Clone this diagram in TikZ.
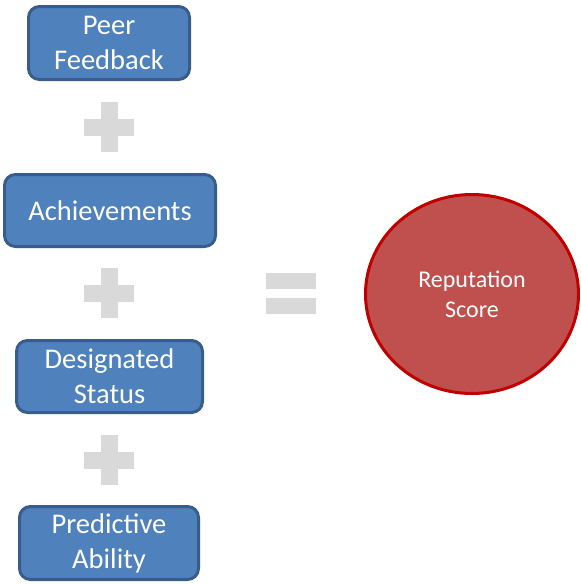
\documentclass[tikz,border=0pt]{standalone}
\usepackage{fontspec}
\setmainfont{Carlito}
\usepackage{tikz}
\usetikzlibrary{shapes.geometric}
\definecolor{boxfill}{HTML}{4F81BD}
\definecolor{boxline}{HTML}{385D8A}
\definecolor{scorefill}{HTML}{C0504D}
\definecolor{scoreline}{HTML}{C00000}
\definecolor{signgray}{HTML}{D9D9D9}
\tikzset{part/.style = {rectangle,rounded corners=11pt,draw=boxline,line width=3pt,fill=boxfill,
                        text=white,align=center,inner sep=0pt,
                        font=\fontsize{28.5}{35}\selectfont},
         score/.style = {ellipse,draw=scoreline,line width=3pt,fill=scorefill,text=white,
                         align=center,inner sep=0pt,minimum width=213pt,minimum height=199pt,
                         font=\fontsize{24}{30}\selectfont},
         sign/.style = {fill=signgray,draw=none}}

\begin{document}
\begin{tikzpicture}[x=1pt,y=-1pt]
            \useasboundingbox (0,0) rectangle (581,584);
            \node[part,minimum width=161pt,minimum height=73pt] (peer) at (109,43)    {Peer\\Feedback};
            \node[part,minimum width=211pt,minimum height=72pt] (ach)  at (110,210.5) {Achievements};
            \node[part,minimum width=186pt,minimum height=72pt] (des)  at (109.5,376.5) {Designated\\Status};
            \node[part,minimum width=179pt,minimum height=73pt] (pred) at (109,543)   {Predictive\\Ability};
            \node[score] (rep) at (472,294) {Reputation\\Score};
            % plus signs
            \foreach \y in {127,293,460} {
                \fill[sign] (100.5,\y-25) rectangle (117.5,\y+25);
                \fill[sign] (84,\y-8.5) rectangle (134,\y+8.5);
            }
            % equals sign
            \fill[sign] (266,273) rectangle (316,289);
            \fill[sign] (266,298) rectangle (316,314);
        \end{tikzpicture}
\end{document}
